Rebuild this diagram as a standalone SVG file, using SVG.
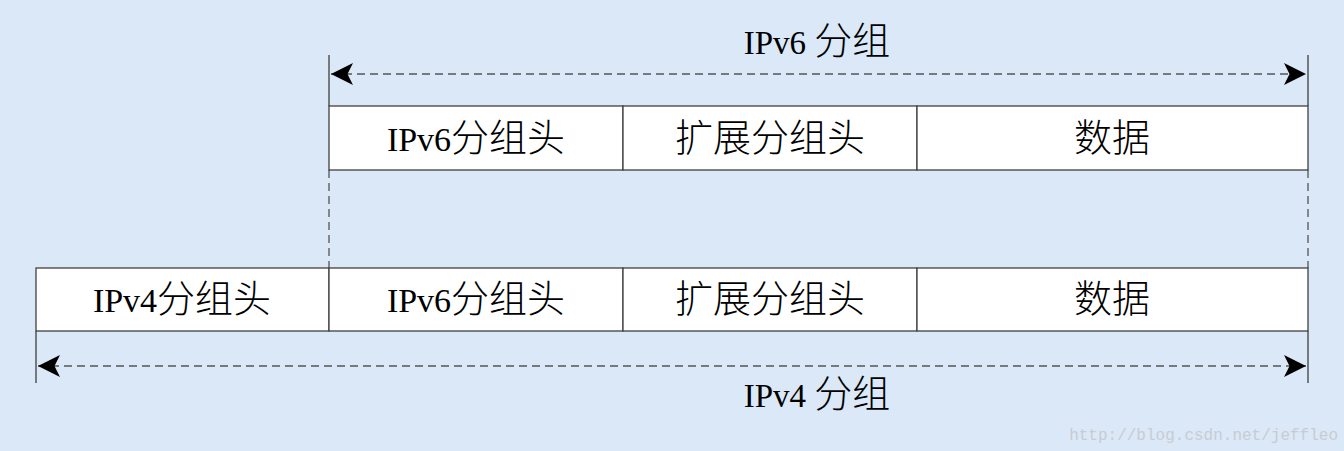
<svg xmlns="http://www.w3.org/2000/svg" width="1344" height="451" viewBox="0 0 1344 451">
<style>
.box{fill:#ffffff;stroke:#404040;stroke-width:1.3}
.t{font-family:"Liberation Serif","Noto Sans CJK SC",serif;font-size:34px;fill:#000;text-anchor:middle}
.l{font-size:33px}
.c{font-family:"Noto Sans CJK SC","Liberation Serif",sans-serif;font-size:38px;font-weight:300}
.dash{stroke:#555;stroke-width:1.3;stroke-dasharray:8,5;fill:none}
.solid{stroke:#555;stroke-width:1.5;fill:none}
</style>
<defs>
<marker id="ah" viewBox="0 0 10 10" refX="10" refY="5" markerWidth="22" markerHeight="22" markerUnits="userSpaceOnUse" orient="auto-start-reverse">
<path d="M0,0 L10,5 L0,10 L2.5,5 Z" fill="#000"/>
</marker>
</defs>
<rect x="0" y="0" width="1344" height="451" fill="#dae8f7"/>
<g id="connectors">
<line class="solid" x1="329" y1="55" x2="329" y2="106"/>
<line class="solid" x1="1308" y1="55" x2="1308" y2="106"/>
<line class="dash" x1="329" y1="170" x2="329" y2="268" stroke-dasharray="6,4"/>
<line class="dash" x1="1308" y1="170" x2="1308" y2="268" stroke-dasharray="6,4"/>
<line class="dash" x1="331" y1="74" x2="1306" y2="74" stroke="#000" marker-start="url(#ah)" marker-end="url(#ah)"/>
<line class="solid" x1="36" y1="331" x2="36" y2="383"/>
<line class="solid" x1="1308" y1="331" x2="1308" y2="383"/>
<line class="dash" x1="38" y1="366" x2="1306" y2="366" stroke="#888" marker-start="url(#ah)" marker-end="url(#ah)"/>
</g>
<g id="top-ipv6hdr"><rect class="box" x="329" y="106" width="294" height="64"/><text class="t" x="476" y="151">IPv6<tspan class="c">分组头</tspan></text></g>
<g id="top-exthdr"><rect class="box" x="623" y="106" width="294" height="64"/><text class="t c" x="770" y="151">扩展分组头</text></g>
<g id="top-data"><rect class="box" x="917" y="106" width="391" height="64"/><text class="t c" x="1112" y="151">数据</text></g>
<g id="bot-ipv4hdr"><rect class="box" x="36" y="268" width="293" height="63"/><text class="t" x="182" y="312">IPv4<tspan class="c">分组头</tspan></text></g>
<g id="bot-ipv6hdr"><rect class="box" x="329" y="268" width="294" height="63"/><text class="t" x="476" y="312">IPv6<tspan class="c">分组头</tspan></text></g>
<g id="bot-exthdr"><rect class="box" x="623" y="268" width="294" height="63"/><text class="t c" x="770" y="312">扩展分组头</text></g>
<g id="bot-data"><rect class="box" x="917" y="268" width="391" height="63"/><text class="t c" x="1112" y="312">数据</text></g>
<g id="label-ipv6"><text class="t l" x="817" y="54">IPv6 <tspan class="c">分组</tspan></text></g>
<g id="label-ipv4"><text class="t l" x="817" y="407">IPv4 <tspan class="c">分组</tspan></text></g>
<text x="1338" y="440" font-family="Liberation Mono,monospace" font-size="16" fill="#c8ccd2" text-anchor="end">http://blog.csdn.net/jeffleo</text>
</svg>
